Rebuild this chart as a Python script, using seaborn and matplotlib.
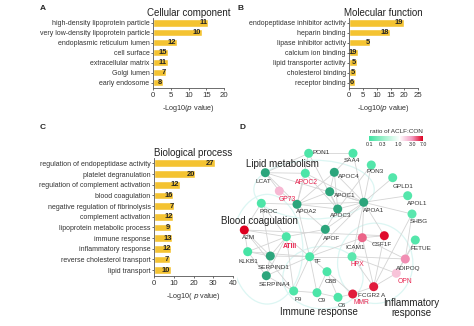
import numpy as np
import pandas as pd
import matplotlib
matplotlib.use("Agg")
import matplotlib.pyplot as plt
import matplotlib.colors as mcolors
from matplotlib.patches import Ellipse
import seaborn as sns

sns.set_style("white")
plt.rcParams['font.family'] = ['Liberation Sans', 'DejaVu Sans']

# ---------------- data ----------------
cc_terms = ["high-density lipoprotein particle", "very low-density lipoprotein particle",
            "endoplasmic reticulum lumen", "cell surface", "extracellular matrix",
            "Golgi lumen", "early endosome"]
cc_vals = [15.5, 13.7, 6.7, 4.2, 4.1, 3.8, 2.8]
cc_counts = [11, 10, 12, 15, 11, 7, 8]

mf_terms = ["endopeptidase inhibitor activity", "heparin binding", "lipase inhibitor activity",
            "calcium ion binding", "lipid transporter activity", "cholesterol binding",
            "receptor binding"]
mf_vals = [19.8, 14.7, 7.6, 3.0, 2.8, 2.4, 2.0]
mf_counts = [19, 18, 5, 19, 5, 5, 6]

bp_terms = ["regulation of endopeptidase activity", "platelet degranulation",
            "regulation of complement activation", "blood coagulation",
            "negative regulation of fibrinolysis", "complement activation",
            "lipoprotein metabolic process", "immune response", "inflammatory response",
            "reverse cholesterol transport", "lipid transport"]
bp_vals = [31.0, 21.0, 13.2, 9.8, 10.3, 9.8, 8.5, 9.3, 8.8, 8.1, 8.4]
bp_counts = [27, 20, 12, 16, 7, 12, 9, 13, 12, 7, 10]

# network: node names, layout positions, ratio ACLF:CON
node_names = ["PON1", "SAA4", "PON3", "LCAT", "APOC2", "APOC4", "GPLD1", "GP73", "APOC1",
              "APOA1", "APOL1", "PROC", "APOA2", "APOC3", "SHBG", "A2M", "ATIII", "APOF",
              "ICAM1", "CSF1F", "FETUE", "KLKB1", "SERPIND1", "TF", "HPX", "ADIPOQ",
              "SERPINA4", "C8B", "OPN", "FCGR2 A", "F9", "C9", "C6", "MMR"]
node_x = [308.7, 353.0, 371.3, 265.3, 305.3, 334.3, 392.7, 279.3, 329.7, 363.7, 407.7, 261.3,
          297.0, 337.7, 412.0, 244.3, 286.3, 325.3, 362.3, 384.3, 415.3, 247.7, 270.3, 309.7,
          352.0, 405.3, 266.3, 327.0, 396.3, 373.7, 293.7, 317.0, 338.0, 352.7]
node_y = [153.3, 153.3, 165.0, 172.7, 173.3, 172.3, 177.7, 191.0, 191.7, 202.3, 195.7, 203.3,
          204.3, 209.0, 214.0, 230.0, 236.7, 229.3, 237.7, 235.7, 240.0, 251.7, 256.0, 256.7,
          256.7, 259.0, 275.7, 271.7, 273.3, 286.7, 291.0, 292.7, 297.3, 294.0]
node_ratio = [0.12, 0.12, 0.13, 0.05, 0.12, 0.05, 0.13, 2.2, 0.05,
              0.09, 0.13, 0.12, 0.05, 0.05, 0.14, 7.0, 0.12, 0.05,
              4.0, 6.5, 0.13, 0.11, 0.05, 0.12, 0.14, 3.2,
              0.05, 0.12, 2.0, 6.0, 0.12, 0.12, 0.12, 6.0]
label_x = [312.5, 352.0, 375.3, 263.0, 306.3, 337.5, 403.0, 287.0, 333.5, 373.7, 417.0, 268.7,
           307.0, 340.3, 418.7, 248.7, 290.3, 331.3, 355.3, 382.0, 421.0, 248.7, 273.7, 314.0,
           357.7, 408.0, 274.3, 331.3, 405.3, 372.0, 297.7, 321.7, 342.0, 361.3]
label_y = [152.7, 160.0, 171.7, 181.7, 182.3, 176.7, 186.0, 199.3, 195.7, 210.0, 203.3, 211.7,
           211.7, 215.0, 221.7, 237.7, 246.7, 238.3, 247.3, 244.3, 248.3, 261.7, 267.3, 261.7,
           264.3, 268.0, 284.0, 281.0, 281.7, 295.0, 299.0, 300.7, 305.0, 302.7]
label_ha = ["left"] + ["center"] * 4 + ["left"] + ["center"] * 2 + ["left"] + ["center"] * 14 + \
           ["left"] + ["center"] * 10
red_labels = ["APOC2", "GP73", "ATIII", "HPX", "OPN", "MMR"]

edges = [("PON1", "SAA4"), ("PON1", "LCAT"), ("PON1", "APOA2"), ("PON1", "APOC3"),
         ("SAA4", "APOA1"), ("SAA4", "APOC4"), ("PON3", "APOA1"), ("PON3", "APOC3"),
         ("LCAT", "APOC2"), ("LCAT", "APOA1"), ("LCAT", "GP73"), ("LCAT", "APOA2"),
         ("APOC2", "APOA2"), ("APOC2", "APOA1"), ("APOC2", "APOC3"),
         ("APOC4", "APOA2"), ("APOC4", "APOC3"), ("APOC4", "APOA1"), ("APOC4", "APOC1"),
         ("GPLD1", "APOA1"), ("APOL1", "APOA1"), ("SHBG", "APOA1"),
         ("APOC1", "APOA2"), ("APOC1", "APOA1"), ("APOC1", "APOC3"),
         ("APOA2", "APOA1"), ("APOA2", "APOC3"), ("APOA2", "PROC"), ("APOA2", "GP73"),
         ("APOA2", "TF"), ("APOC3", "APOA1"), ("APOC3", "APOF"),
         ("APOF", "APOA1"), ("APOF", "APOA2"), ("APOF", "TF"),
         ("PROC", "SERPIND1"), ("PROC", "ATIII"), ("PROC", "A2M"),
         ("A2M", "ATIII"), ("A2M", "KLKB1"), ("A2M", "SERPIND1"), ("A2M", "CSF1F"), ("A2M", "F9"),
         ("ATIII", "SERPIND1"), ("ATIII", "TF"), ("ATIII", "F9"), ("ATIII", "KLKB1"),
         ("ATIII", "APOF"), ("ATIII", "SERPINA4"),
         ("KLKB1", "SERPIND1"), ("KLKB1", "TF"), ("KLKB1", "SERPINA4"),
         ("SERPIND1", "TF"), ("SERPIND1", "SERPINA4"), ("SERPINA4", "F9"), ("SERPINA4", "TF"),
         ("TF", "HPX"), ("TF", "C8B"), ("TF", "F9"), ("TF", "ICAM1"), ("TF", "APOA1"), ("TF", "C9"),
         ("C8B", "C9"), ("C8B", "C6"), ("C9", "C6"), ("C9", "F9"), ("C8B", "MMR"),
         ("HPX", "ADIPOQ"), ("HPX", "FCGR2 A"), ("HPX", "APOA1"),
         ("ICAM1", "CSF1F"), ("ICAM1", "FCGR2 A"), ("ICAM1", "ADIPOQ"), ("ICAM1", "APOA1"),
         ("ICAM1", "HPX"), ("CSF1F", "FCGR2 A"), ("CSF1F", "APOA1"),
         ("FETUE", "ADIPOQ"), ("FETUE", "OPN"), ("SHBG", "ADIPOQ"), ("SHBG", "FCGR2 A"),
         ("OPN", "FCGR2 A"), ("OPN", "ADIPOQ"), ("OPN", "HPX"),
         ("MMR", "FCGR2 A"), ("MMR", "C6")]

groups = {
    "Lipid metabolism": ["LCAT", "APOC2", "APOC4", "APOC1", "APOA2", "APOC3", "GP73", "APOA1"],
    "Blood coagulation": ["A2M", "ATIII", "KLKB1", "SERPIND1", "SERPINA4", "PROC", "F9"],
    "Immune response": ["TF", "C8B", "C9", "C6", "F9", "HPX"],
    "Inflammatory response": ["ICAM1", "CSF1F", "ADIPOQ", "OPN", "FCGR2 A", "MMR", "HPX"],
}
group_text = ["Lipid metabolism", "Blood coagulation", "Immune response", "Inflammatory\nresponse"]
group_tx = [282.0, 259.0, 318.7, 411.0]
group_ty = [164.0, 221.0, 312.3, 308.0]

cbar_ticks = [0.1, 0.3, 1.0, 3.0, 7.0]

# ---------------- figure ----------------
W, H = 474, 326
fig = plt.figure(figsize=(W / 100, H / 100), dpi=100)

def px_axes(x0, y0, x1, y1):
    return fig.add_axes([x0 / W, 1 - y1 / H, (x1 - x0) / W, (y1 - y0) / H])

BAR = "#f4c332"
TXT = "#333333"

def bar_panel(ax, terms, vals, counts, xmax, step, title):
    df = pd.DataFrame({"term": terms, "val": vals})
    sns.barplot(data=df, x="val", y="term", orient="h", color=BAR, width=0.72,
                saturation=1, ax=ax)
    ax.set_xlim(0, xmax)
    ax.set_xticks(np.arange(0, xmax + 0.1, step))
    ax.set_ylabel("")
    ax.set_xlabel("-Log10($\\it{p}$ value)", fontsize=5.2, color=TXT, labelpad=3)
    ax.tick_params(axis="y", labelsize=5.0, length=1.5, width=0.5, pad=1, colors=TXT, left=True)
    ax.tick_params(axis="x", labelsize=5.6, length=1.5, width=0.5, pad=1.5, colors=TXT, bottom=True)
    for s in ["top", "right"]:
        ax.spines[s].set_visible(False)
    for s in ["left", "bottom"]:
        ax.spines[s].set_color("#555555")
        ax.spines[s].set_linewidth(0.6)
    for i, (v, c) in enumerate(zip(vals, counts)):
        ax.text(v - 0.01 * xmax, i, str(c), ha="right", va="center", fontsize=5.4,
                color="#222222", fontweight="bold")
    ax.set_title(title, fontsize=7.0, color="#222222", pad=1.5, loc="center")

axA = px_axes(153, 18, 224, 87.5)
bar_panel(axA, cc_terms, cc_vals, cc_counts, 20, 5, "Cellular component")
axB = px_axes(349.3, 18, 418, 87.5)
bar_panel(axB, mf_terms, mf_vals, mf_counts, 25, 5, "Molecular function")
axC = px_axes(154, 158, 233, 275.5)
bar_panel(axC, bp_terms, bp_vals, bp_counts, 40, 10, "Biological process")
axC.set_xlabel("-Log10( $\\it{p}$ value)", fontsize=5.2, color=TXT, labelpad=3)

for lab, (x, y) in zip("ABCD", [(43, 9), (241, 9), (43, 128), (242, 128)]):
    fig.text(x / W, 1 - y / H, lab, fontsize=6, fontweight="bold", ha="center", va="center")

# ---------------- network ----------------
axD = px_axes(237, 145, 474, 326)
axD.set_xlim(237, 474)
axD.set_ylim(326, 145)
axD.axis("off")

cmap = mcolors.LinearSegmentedColormap.from_list(
    "aclf", [(0.0, "#3fe3a2"), (0.27, "#9ff0cc"), (0.566, "#ffffff"),
             (0.80, "#f39ac0"), (1.0, "#dd0020")])
cmap.set_under("#2ca57c")
cmap.set_over("#dd0020")
norm = mcolors.LogNorm(vmin=0.1, vmax=7.0)

pos = {n: (x, y) for n, x, y in zip(node_names, node_x, node_y)}

# faint cluster hulls
for gname, members in groups.items():
    xs = np.array([pos[m][0] for m in members])
    ys = np.array([pos[m][1] for m in members])
    cx, cy = xs.mean(), ys.mean()
    w = (xs.max() - xs.min()) + 22
    h = (ys.max() - ys.min()) + 22
    axD.add_patch(Ellipse((cx, cy), w, h, fill=False, edgecolor="#dcf6f3", lw=0.9, zorder=0))

for a, b in edges:
    axD.plot([pos[a][0], pos[b][0]], [pos[a][1], pos[b][1]], color="#d4d4d4", lw=0.6, zorder=1)

ndf = pd.DataFrame({"x": node_x, "y": node_y, "ratio": node_ratio, "name": node_names})
sns.scatterplot(data=ndf, x="x", y="y", hue="ratio", hue_norm=norm, palette=cmap,
                s=42, linewidth=0, legend=False, ax=axD, zorder=3)
axD.set_xlabel("")
axD.set_ylabel("")

for n, lx, ly, ha in zip(node_names, label_x, label_y, label_ha):
    red = n in red_labels
    axD.text(lx, ly, n, fontsize=4.6 if not red else 4.9, ha=ha, va="center",
             color=("#e8234f" if red else "#333333"),
             fontweight=("bold" if n == "ATIII" else "normal"), zorder=4)

for t, x, y in zip(group_text, group_tx, group_ty):
    axD.text(x, y, t, fontsize=7.0, ha="center", va="center", color="#222222",
             linespacing=0.95, clip_on=False, zorder=5)

# colorbar
cax = px_axes(369, 135.5, 423, 140.5)
sm = plt.cm.ScalarMappable(norm=norm, cmap=cmap)
cb = fig.colorbar(sm, cax=cax, orientation="horizontal")
cb.set_ticks(cbar_ticks)
cb.set_ticklabels([f"{t:.1f}" for t in cbar_ticks])
cb.ax.tick_params(labelsize=3.8, length=0, pad=1.2)
cb.outline.set_visible(False)
cb.ax.minorticks_off()
cax.set_title("ratio of ACLF:CON", fontsize=4.6, pad=1.5, color="#333333")

fig.savefig("out.png", dpi=100)
